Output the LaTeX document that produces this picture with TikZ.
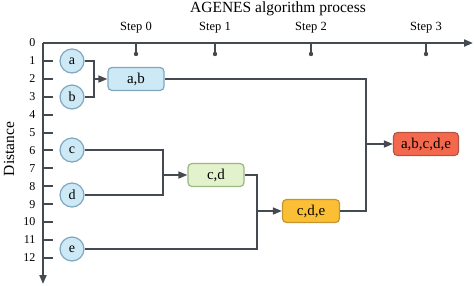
\documentclass[tikz,border=0pt]{standalone}
\usepackage{fontspec}
\setmainfont{Liberation Serif}
\usetikzlibrary{arrows.meta}
\definecolor{linegray}{HTML}{454A50}
\definecolor{blueFill}{HTML}{CDE9F6}
\definecolor{blueLine}{HTML}{7EA7BF}
\definecolor{greenFill}{HTML}{E2F2CC}
\definecolor{greenLine}{HTML}{9BB783}
\definecolor{orangeFill}{HTML}{FBBF36}
\definecolor{orangeLine}{HTML}{C6952D}
\definecolor{redFill}{HTML}{F4694E}
\definecolor{redLine}{HTML}{B55440}

\begin{document}
\begin{tikzpicture}[x=1pt, y=-1pt, >={Triangle[length=9pt,width=7pt]},
    point/.style={circle, draw=blueLine, fill=blueFill, line width=1.2pt, minimum size=24pt, inner sep=0pt, font=\fontsize{14}{14}\selectfont},
    cluster/.style={rounded corners=4pt, line width=1.2pt, minimum height=23pt, inner sep=2pt, font=\fontsize{15}{15}\selectfont},
    link/.style={draw=linegray, line width=1.6pt},
    axis/.style={draw=linegray, line width=2pt}]
        \useasboundingbox (0,0) rectangle (474,285);

        % title and distance label
        \node (title) at (278,9) {\fontsize{15.5}{15.5}\selectfont AGENES algorithm process};
        \node[rotate=90] (dist) at (9,149) {\fontsize{15.5}{15.5}\selectfont Distance};

        % axes
        \draw[axis, ->] (43,43) -- (473,43);
        \draw[axis, ->] (43,43) -- (43,284);
        \foreach \i in {0,...,12} {
            \draw[axis] (43,43+17.9*\i) -- (53,43+17.9*\i);
            \node[anchor=east, font=\fontsize{12}{12}\selectfont] (y\i) at (39,43+17.9*\i) {\i};
        }

        % steps on the top axis
        \foreach \x/\n in {136/0,215/1,311/2,426/3} {
            \draw[link] (\x,43) -- (\x,54);
            \fill[linegray] (\x,54) circle (2.2pt);
            \node[font=\fontsize{12.5}{12.5}\selectfont] (s\n) at (\x,28) {Step \n};
        }

        % samples
        \node[point] (a) at (72,61) {a};
        \node[point] (b) at (72,97) {b};
        \node[point] (c) at (72,150) {c};
        \node[point] (d) at (72,195) {d};
        \node[point] (e) at (72,249) {e};

        % clusters
        \node[cluster, draw=blueLine, fill=blueFill, minimum width=56pt] (ab) at (136,79) {a,b};
        \node[cluster, draw=greenLine, fill=greenFill, minimum width=56pt] (cd) at (216,175) {c,d};
        \node[cluster, draw=orangeLine, fill=orangeFill, minimum width=57pt] (cde) at (311,211) {c,d,e};
        \node[cluster, draw=redLine, fill=redFill, minimum width=65pt] (abcde) at (426,144) {a,b,c,d,e};

        % merging
        \coordinate (j1) at (94,79);
        \coordinate (j2) at (163,175);
        \coordinate (j3) at (257,211);
        \coordinate (j4) at (366,144);
        \draw[link] (a) -| (j1) |- (b);
        \draw[link, ->] (j1) -- (ab);
        \draw[link] (c) -| (j2) |- (d);
        \draw[link, ->] (j2) -- (cd);
        \draw[link] (cd) -| (j3) |- (e);
        \draw[link, ->] (j3) -- (cde);
        \draw[link] (ab) -| (j4) |- (cde);
        \draw[link, ->] (j4) -- (abcde);
    \end{tikzpicture}
\end{document}
